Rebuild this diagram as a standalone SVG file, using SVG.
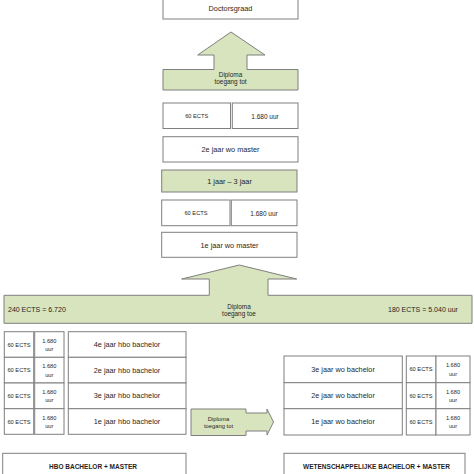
<svg xmlns="http://www.w3.org/2000/svg" width="474" height="474" viewBox="0 0 474 474">
<style>
text{font-family:"Liberation Sans",Arial,sans-serif;fill:#1f1f1f;text-anchor:middle;dominant-baseline:central}
.b{fill:#fff;stroke:#7f7f7f;stroke-width:1}
.g{fill:#d7e4bd;stroke:#7f7f7f;stroke-width:1}
.t{font-size:7.3px}
.e{font-size:5.7px}
.u{font-size:6.5px}
.s{font-size:5.8px}
.d{font-size:6.4px}
.h{font-size:6.5px;font-weight:bold}
.l{font-size:7px;text-anchor:start}
</style>
<rect width="474" height="474" fill="#fff"/>
<g id="connectors">
<g id="arrow-top">
<path class="g" d="M163,69.5 L214,69.5 L214,55 L197.7,55 L231,32 L265,55 L247,55 L247,69.5 L298,69.5 L298,90 L163,90 Z"/>
<text class="d" x="230.5" y="74.5">Diploma</text>
<text class="d" x="230.5" y="81.5">toegang tot</text>
</g>
<g id="arrow-big">
<path class="g" d="M4,295.3 L209.3,295.3 L209.3,279 L181.7,279 L239.3,265 L296.7,279 L268,279 L268,295.3 L472,295.3 L472,323.3 L4,323.3 Z"/>
<text class="d" x="239" y="306">Diploma</text>
<text class="d" x="239" y="313.5">toegang toe</text>
<text class="l" x="8" y="309.5">240 ECTS = 6.720</text>
<text class="l" x="388" y="309.5">180 ECTS = 5.040 uur</text>
</g>
<g id="arrow-right">
<path class="g" d="M191,409 L246,409 L246,413 L267,413 L267,409 L273.5,422 L267,435 L267,431 L246,431 L246,435.5 L191,435.5 Z"/>
<text class="s" x="218.5" y="418.5">Diploma</text>
<text class="s" x="218.5" y="426">toegang tot</text>
</g>
</g>
<g id="doctorsgraad"><rect class="b" x="163" y="-2" width="135" height="21"/><text class="t" x="230.5" y="8">Doctorsgraad</text></g>
<g id="m2-ects"><rect class="b" x="163" y="103" width="67.5" height="25.5"/><text class="e" x="196.7" y="116">60 ECTS</text></g>
<g id="m2-uur"><rect class="b" x="232.3" y="103" width="65.7" height="25.5"/><text class="u" x="265" y="116">1.680 uur</text></g>
<g id="m2"><rect class="b" x="163" y="136.7" width="135" height="25.3"/><text class="t" x="230.5" y="149.5">2e jaar wo master</text></g>
<g id="duur"><rect class="g" x="161.7" y="170" width="135.3" height="22"/><text class="t" x="229.5" y="181">1 jaar – 3 jaar</text></g>
<g id="m1-ects"><rect class="b" x="161.7" y="200" width="68.3" height="25.7"/><text class="e" x="196" y="213">60 ECTS</text></g>
<g id="m1-uur"><rect class="b" x="231.3" y="200" width="65.7" height="25.7"/><text class="u" x="264" y="213">1.680 uur</text></g>
<g id="m1"><rect class="b" x="161.7" y="232.3" width="135.3" height="25"/><text class="t" x="229.5" y="245">1e jaar wo master</text></g>
<g id="hbo4">
<rect class="b" x="4.3" y="331.7" width="29.4" height="25.6"/><text class="e" x="19" y="344.5">60 ECTS</text>
<rect class="b" x="34.7" y="331.7" width="29.3" height="25.6"/><text class="e" x="49.3" y="340.5">1.680</text><text class="e" x="49.3" y="349">uur</text>
<rect class="b" x="68.3" y="331.7" width="117.7" height="25.6"/><text class="t" x="127" y="344.5">4e jaar hbo bachelor</text>
</g>
<g id="hbo2">
<rect class="b" x="4.3" y="357.3" width="29.4" height="25.7"/><text class="e" x="19" y="370">60 ECTS</text>
<rect class="b" x="34.7" y="357.3" width="29.3" height="25.7"/><text class="e" x="49.3" y="366">1.680</text><text class="e" x="49.3" y="374.5">uur</text>
<rect class="b" x="68.3" y="357.3" width="117.7" height="25.7"/><text class="t" x="127" y="370">2e jaar hbo bachelor</text>
</g>
<g id="hbo3">
<rect class="b" x="4.3" y="383" width="29.4" height="25.7"/><text class="e" x="19" y="395.5">60 ECTS</text>
<rect class="b" x="34.7" y="383" width="29.3" height="25.7"/><text class="e" x="49.3" y="391.5">1.680</text><text class="e" x="49.3" y="400">uur</text>
<rect class="b" x="68.3" y="383" width="117.7" height="25.7"/><text class="t" x="127" y="395.5">3e jaar hbo bachelor</text>
</g>
<g id="hbo1">
<rect class="b" x="4.3" y="408.7" width="29.4" height="25.6"/><text class="e" x="19" y="421.5">60 ECTS</text>
<rect class="b" x="34.7" y="408.7" width="29.3" height="25.6"/><text class="e" x="49.3" y="417.5">1.680</text><text class="e" x="49.3" y="426">uur</text>
<rect class="b" x="68.3" y="408.7" width="117.7" height="25.6"/><text class="t" x="127" y="421.5">1e jaar hbo bachelor</text>
</g>
<g id="wo3">
<rect class="b" x="284" y="356" width="118.3" height="26.7"/><text class="t" x="343" y="369">3e jaar wo bachelor</text>
<rect class="b" x="406.3" y="356" width="29.7" height="26.7"/><text class="e" x="421" y="369">60 ECTS</text>
<rect class="b" x="436" y="356" width="34" height="26.7"/><text class="e" x="453" y="365">1.680</text><text class="e" x="453" y="373.5">uur</text>
</g>
<g id="wo2">
<rect class="b" x="284" y="382.7" width="118.3" height="26"/><text class="t" x="343" y="395.5">2e jaar wo bachelor</text>
<rect class="b" x="406.3" y="382.7" width="29.7" height="26"/><text class="e" x="421" y="395.5">60 ECTS</text>
<rect class="b" x="436" y="382.7" width="34" height="26"/><text class="e" x="453" y="391.5">1.680</text><text class="e" x="453" y="400">uur</text>
</g>
<g id="wo1">
<rect class="b" x="284" y="408.7" width="118.3" height="26.3"/><text class="t" x="343" y="421.5">1e jaar wo bachelor</text>
<rect class="b" x="406.3" y="408.7" width="29.7" height="26.3"/><text class="e" x="421" y="421.5">60 ECTS</text>
<rect class="b" x="436" y="408.7" width="34" height="26.3"/><text class="e" x="453" y="417.5">1.680</text><text class="e" x="453" y="426">uur</text>
</g>
<g id="hbo-title"><rect class="b" x="2.7" y="453.3" width="183.3" height="30"/><text class="h" x="93" y="466.5">HBO BACHELOR + MASTER</text></g>
<g id="wo-title"><rect class="b" x="284" y="453.3" width="181" height="30"/><text class="h" x="376.5" y="466.5">WETENSCHAPPELIJKE BACHELOR + MASTER</text></g>
</svg>
